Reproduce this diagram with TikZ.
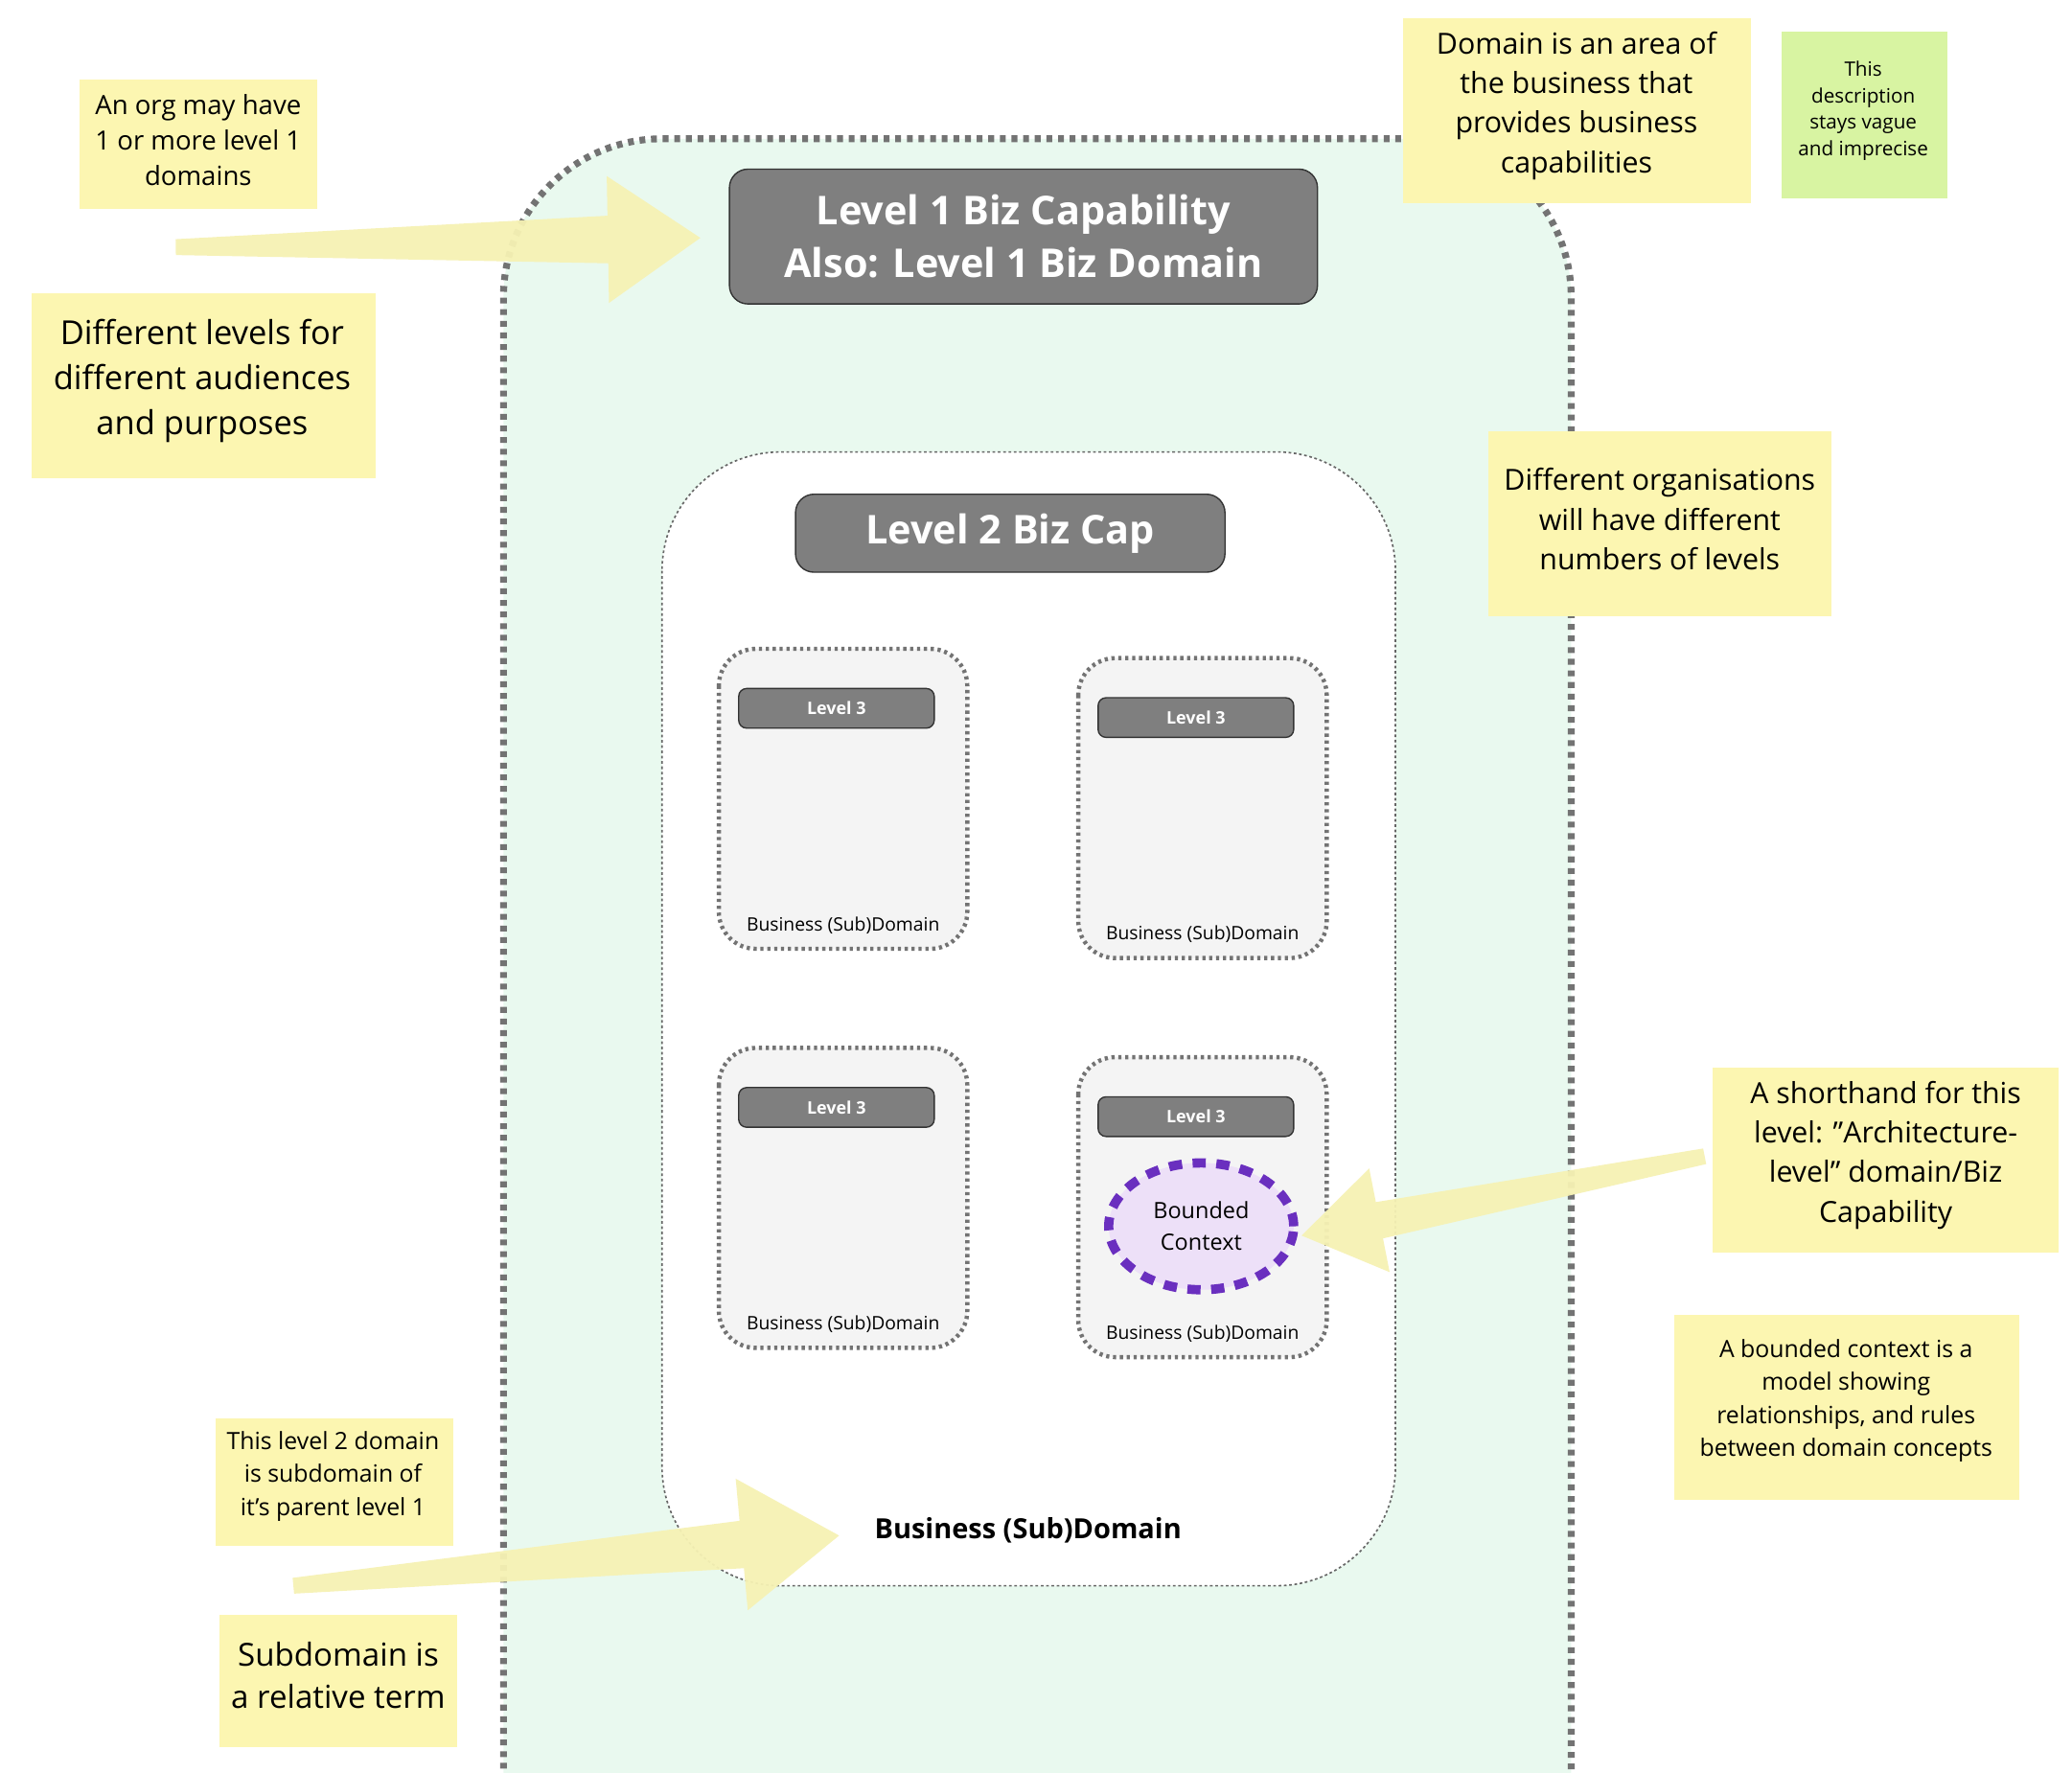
\documentclass[tikz,border=0pt]{standalone}
\usepackage{fontspec}
\setmainfont{Open Sans}
\usetikzlibrary{calc,shapes.geometric}
\definecolor{mint}{HTML}{E9F9EF}
\definecolor{boxg}{HTML}{7F7F7F}
\definecolor{lt}{HTML}{F4F4F4}
\definecolor{sticky}{HTML}{FCF6B1}
\definecolor{greenst}{HTML}{D8F4A2}
\definecolor{purp}{HTML}{6A2FBF}
\definecolor{lav}{HTML}{EDE0F8}
\definecolor{arrc}{HTML}{F6F2B4}
\tikzset{
 title/.style={draw=black!80,fill=boxg,rounded corners=7pt,text=white,font=\bfseries,align=center,line width=0.5pt},
 st/.style={fill=sticky,align=center,inner sep=0pt},
 lvl/.style={draw=black!55,fill=lt,line width=1.6pt,dash pattern=on 1.2pt off 1.4pt,rounded corners=14pt},
}
\newcommand\fatarr[6]{%
 \coordinate (faC) at ($(#2)!#3!(#1)$);
 \fill[arrc,opacity=0.95] ($(#1)!#6!90:(#2)$) -- ($(faC)!#5!-90:(#1)$) -- ($(faC)!#4!-90:(#1)$) -- (#2)
   -- ($(faC)!#4!90:(#1)$) -- ($(faC)!#5!90:(#1)$) -- ($(#1)!#6!-90:(#2)$) -- cycle;}
\begin{document}
\begin{tikzpicture}[x=0.5pt,y=-0.5pt]
\useasboundingbox (0,0) rectangle (1568,1341);
\fill[white] (0,0) rectangle (1568,1341);
% level 1
\draw[fill=mint,draw=black!55,line width=2.6pt,dash pattern=on 2.2pt off 2.2pt,rounded corners=60pt]
 (381,1400) -- (381,105) -- (1189,105) -- (1189,1400);
\node[title,minimum width=222.5pt,minimum height=51pt,font=\bfseries\fontsize{15}{20}\selectfont] (l1) at (774.5,179) {Level 1 Biz Capability\\Also: Level 1 Biz Domain};
% level 2
\draw[fill=white,draw=black!60,line width=0.6pt,dash pattern=on 1pt off 1pt,rounded corners=45pt] (501,342) rectangle (1056,1200);
\node[title,minimum width=162.5pt,minimum height=29.5pt,font=\bfseries\fontsize{15}{18}\selectfont] (l2) at (764.5,403.5) {Level 2 Biz Cap};
\node[font=\bfseries\fontsize{10.5}{12}\selectfont] (bsd) at (778,1158) {Business (Sub)Domain};
% level 3
\foreach \x/\y/\n in {544/491/a,816/498/b,544/793/c,816/800/d}{
 \draw[lvl] (\x,\y) rectangle ++(188,227);
 \node[title,rounded corners=3pt,minimum width=74pt,minimum height=15pt,font=\bfseries\fontsize{6.5}{8}\selectfont] (h\n) at (\x+89,\y+45) {Level 3};
 \node[font=\fontsize{7}{8}\selectfont] (s\n) at (\x+94,\y+209) {Business (Sub)Domain};
}
\node[ellipse,draw=purp,fill=lav,line width=3.5pt,dash pattern=on 5pt off 4pt,minimum width=70pt,minimum height=48pt,inner sep=0pt,align=center,font=\fontsize{8.5}{12}\selectfont] (bc) at (909,928) {Bounded\\Context};
% arrows
\coordinate (a1s) at (133,187); \coordinate (a1e) at (530,180);
\fatarr{a1s}{a1e}{35pt}{24pt}{9pt}{3pt}
\coordinate (a2s) at (1290,875); \coordinate (a2e) at (985,935);
\fatarr{a2s}{a2e}{30pt}{20pt}{7pt}{3pt}
\coordinate (a3s) at (222,1200); \coordinate (a3e) at (635,1162);
\fatarr{a3s}{a3e}{37pt}{25pt}{9pt}{3pt}
% stickies
\newcommand\stk[7]{\node[st,minimum width=#3*0.5pt,minimum height=#4*0.5pt,font=\fontsize{#6}{#7}\selectfont,#5] (#1) at #2 {};}
\fill[sticky] (60,60) rectangle (240,158);
\node[font=\fontsize{10}{13.5}\selectfont,align=center] (n1) at (150,106) {An org may have\\1 or more level 1\\domains};
\fill[sticky] (24,222) rectangle (284,362);
\node[font=\fontsize{12.5}{17}\selectfont,align=center] (n2) at (153,288) {Different levels for\\different audiences\\and purposes};
\fill[sticky] (1062,14) rectangle (1325,154);
\node[font=\fontsize{11}{15}\selectfont,align=center] (n3) at (1193,80) {Domain is an area of\\the business that\\provides business\\capabilities};
\fill[greenst] (1348,24) rectangle (1474,150);
\node[font=\fontsize{7.5}{10}\selectfont,align=center] (n4) at (1410,84) {This\\description\\stays vague\\and imprecise};
\fill[sticky] (1126,326) rectangle (1386,466);
\node[font=\fontsize{11}{15}\selectfont,align=center] (n5) at (1256,393) {Different organisations\\will have different\\numbers of levels};
\fill[sticky] (1296,808) rectangle (1558,948);
\node[font=\fontsize{11}{15}\selectfont,align=center] (n6) at (1427,874) {A shorthand for this\\level: "Architecture-\\level" domain/Biz\\Capability};
\fill[sticky] (1267,995) rectangle (1528,1135);
\node[font=\fontsize{9}{12.5}\selectfont,align=center] (n7) at (1397,1060) {A bounded context is a\\model showing\\relationships, and rules\\between domain concepts};
\fill[sticky] (163,1073) rectangle (343,1170);
\node[font=\fontsize{9}{12.5}\selectfont,align=center] (n8) at (252,1117) {This level 2 domain\\is subdomain of\\it's parent level 1};
\fill[sticky] (166,1222) rectangle (346,1322);
\node[font=\fontsize{12}{16}\selectfont,align=center] (n9) at (256,1268) {Subdomain is\\a relative term};
\end{tikzpicture}
\end{document}
